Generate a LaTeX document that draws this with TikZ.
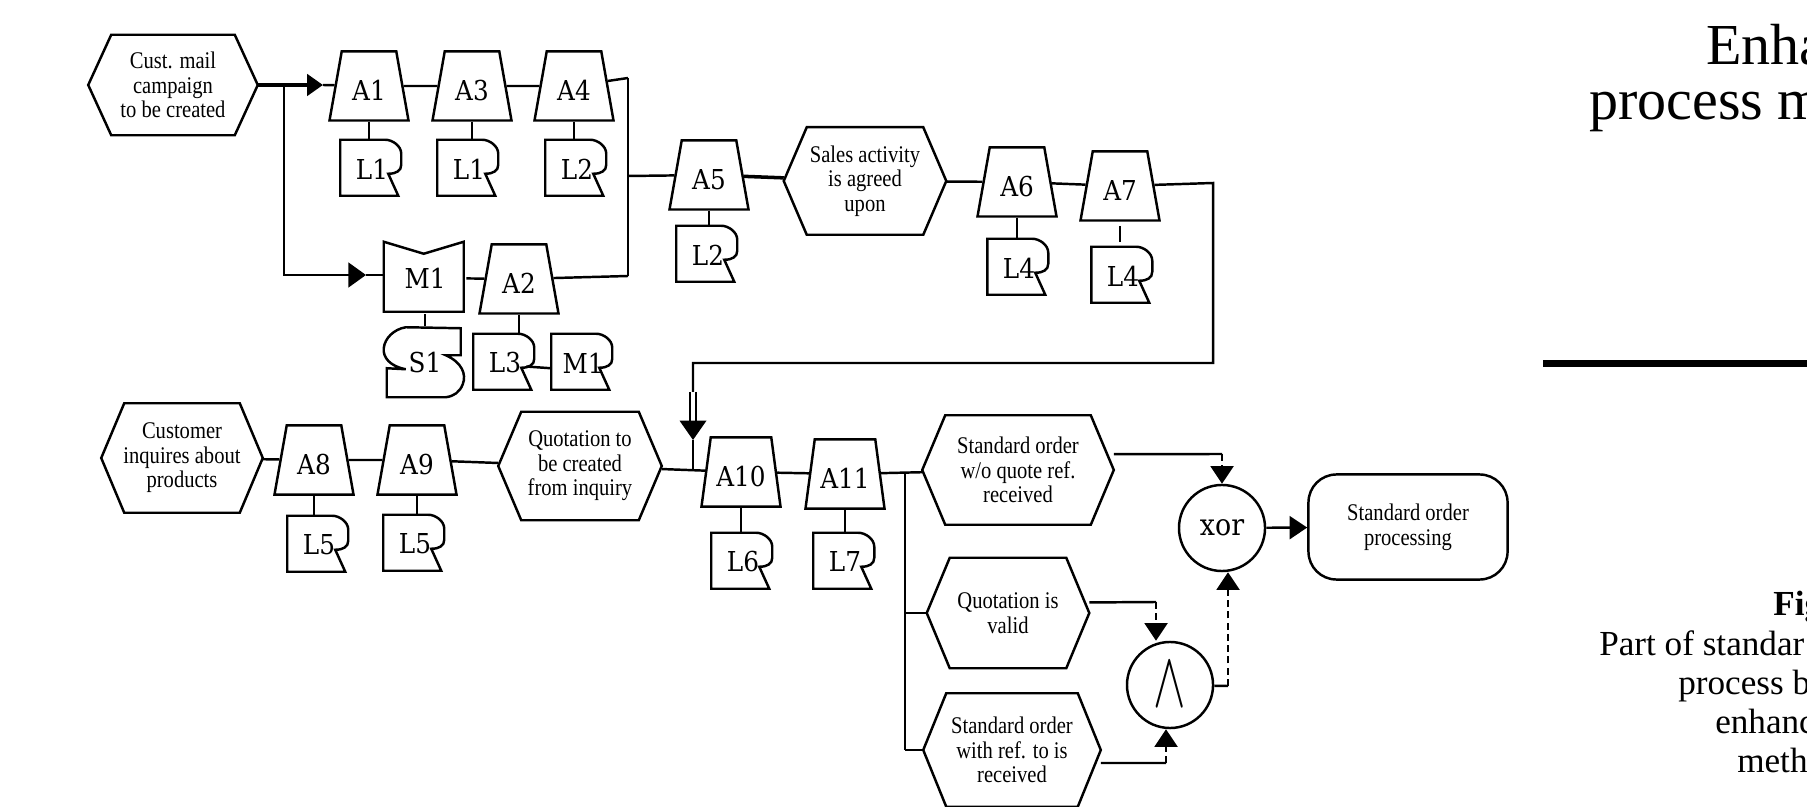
\documentclass[tikz,border=0pt]{standalone}
\usepackage{fontspec}
\setmainfont{Liberation Serif}
\newfontfamily\evfont[FakeStretch=0.86]{Liberation Serif}
\newfontfamily\fnfont[FakeStretch=0.9]{DejaVu Serif}
\usetikzlibrary{arrows.meta,shapes.geometric}

% outline of a document symbol, 61 x 56, from its north west corner
\newcommand\docpath{(0,0) -- (45,0) .. controls (52,0) and (61,6) .. (61,14) -- (61,25)
  .. controls (61,31) and (56,34) .. (48,34) -- (58,56) -- (0,56) -- cycle}

\begin{document}
\begin{tikzpicture}[x=0.01cm, y=-0.01cm, line width=0.7pt,
  >={Triangle[length=5pt, width=6.5pt]},
  evt/.style={inner sep=0pt, align=center, font=\evfont\fontsize{6.8}{7}\selectfont},
  fn/.style={draw, trapezium, trapezium angle=75, trapezium stretches=true,
    minimum width=0.79cm, minimum height=0.69cm, inner sep=0pt,
    text height=0.28cm, text depth=0pt, font=\fnfont\fontsize{7.8}{8}\selectfont},
  docnode/.style={minimum width=0.61cm, minimum height=0.56cm, inner sep=0pt,
    font=\fnfont\fontsize{7.8}{8}\selectfont},
  gate/.style={draw, circle, minimum size=0.86cm, inner sep=0pt},
  dsh/.style={dash pattern=on 2pt off 1.2pt},
  ttl/.style={anchor=base west, inner sep=0pt}]
  \useasboundingbox (0,0) rectangle (1807,807);

  % events
  \node[evt, minimum width=1.67cm, minimum height=0.98cm] (h1) at (173,85) {Cust. mail\\campaign\\to be created};
  \node[evt, minimum width=1.60cm, minimum height=1.05cm] (h2) at (865,181) {Sales activity\\is agreed\\upon};
  \node[evt, minimum width=1.59cm, minimum height=1.07cm] (h3) at (182,458) {Customer\\inquires about\\products};
  \node[evt, minimum width=1.61cm, minimum height=1.06cm] (h4) at (580,466) {Quotation to\\be created\\from inquiry};
  \node[evt, minimum width=1.89cm, minimum height=1.07cm] (h5) at (1018,470) {Standard order\\w/o quote ref.\\received};
  \node[evt, minimum width=1.60cm, minimum height=1.08cm] (h6) at (1008,613) {Quotation is\\valid};
  \node[evt, minimum width=1.75cm, minimum height=1.11cm] (h7) at (1012,750) {Standard order\\with ref. to is\\received};
  \foreach \n in {h1,h2,h3,h4,h5,h6,h7}
    \draw (\n.west) -- ([xshift=0.23cm]\n.north west) -- ([xshift=-0.23cm]\n.north east)
      -- (\n.east) -- ([xshift=-0.23cm]\n.south east) -- ([xshift=0.23cm]\n.south west) -- cycle;

  % functions
  \node[fn] (a1) at (369,86) {A1};
  \node[fn] (a3) at (472,86) {A3};
  \node[fn] (a4) at (574,86) {A4};
  \node[fn] (a2) at (519,279) {A2};
  \node[fn] (a5) at (709,175) {A5};
  \node[fn] (a6) at (1017,182) {A6};
  \node[fn] (a7) at (1120,186) {A7};
  \node[fn] (a8) at (314,460) {A8};
  \node[fn] (a9) at (417,460) {A9};
  \node[fn] (a10) at (741,472) {A10};
  \node[fn] (a11) at (845,474) {A11};

  % documents, machine and system
  \node[docnode] (l1a) at (372,169) {L1};
  \node[docnode] (l1b) at (469,169) {L1};
  \node[docnode] (l2a) at (577,169) {L2};
  \node[docnode] (l2b) at (708,255) {L2};
  \node[docnode] (l4a) at (1019,268) {L4};
  \node[docnode] (l4b) at (1123,276) {L4};
  \node[docnode] (l3) at (505,363) {L3};
  \node[docnode] (m1b) at (583,363) {M1};
  \node[docnode] (l5a) at (319,545) {L5};
  \node[docnode] (l5b) at (415,544) {L5};
  \node[docnode] (l6) at (743,562) {L6};
  \node[docnode] (l7) at (845,562) {L7};
  \foreach \n in {l1a,l1b,l2a,l2b,l4a,l4b,l3,m1b,l5a,l5b,l6,l7}
    \draw[shift={(\n.north west)}] \docpath;

  \node[docnode, minimum width=0.80cm, minimum height=0.70cm] (m1) at (425,278) {M1};
  \draw[shift={(m1.north west)}] (0,0) -- (40,12) -- (80,0) -- (80,70) -- (0,70) -- cycle;
  \node[docnode, minimum width=0.80cm, minimum height=0.71cm] (s1) at (425,363) {S1};
  \draw[shift={(s1.north west)}] (22,1) -- (77,2) -- (77,29) -- (62,29)
    .. controls (78,36) and (83,48) .. (79,58) .. controls (76,66) and (70,70) .. (62,71)
    -- (3,71) -- (3,42) -- (22,43) .. controls (6,40) and (-1,31) .. (0,22)
    .. controls (1,12) and (10,3) .. (22,1) -- cycle;

  % operators and target
  \node[gate, font=\fnfont\fontsize{8.5}{9}\selectfont] (xor) at (1222,528) {xor};
  \node[gate] (and) at (1170,685) {\scalebox{0.8}[1.3]{\fontsize{16}{16}\selectfont$\wedge$}};
  \node[draw, rounded corners=0.28cm, minimum width=1.99cm, minimum height=1.05cm,
    evt] (sop) at (1408,527) {Standard order\\processing};

  % upper flow
  \coordinate (j1) at (284,85);
  \coordinate (t1) at (323,85);
  \coordinate (t2) at (366,275);
  \draw[line width=1.1pt] (h1.east) -- (j1);
  \draw[line width=1.1pt, -{Triangle[length=4.5pt, width=6pt]}] (j1) -- (t1);
  \draw (t1) -- (a1);
  \draw[-{Triangle[length=5pt, width=7pt]}] (j1) |- (t2);
  \draw (t2) -- (t2 -| m1.west);
  \draw (a1) -- (a3);
  \draw (a3) -- (a4);
  \draw (m1) -- (a2);
  \coordinate (btop) at (628,78);
  \coordinate (bmid) at (628,176);
  \coordinate (bbot) at (628,276);
  \draw (a4) -- (btop);
  \draw (a2) -- (bbot);
  \draw (btop) -- (bbot);
  \draw (bmid) -- (a5);
  \draw[line width=1pt] (a5) -- (h2);
  \draw (h2) -- (a6);
  \draw (a6) -- (a7);

  % return to the lower row
  \coordinate (c1) at (1213,183);
  \coordinate (c2) at (693,363);
  \coordinate (c3) at (693,392);
  \coordinate (c4) at (693,421);
  \coordinate (t3) at (693,440);
  \coordinate (j3) at (693,469);
  \draw (a7) -- (c1) |- (c2) -- (c3);
  \draw[double, double distance=1pt] (c3) -- (c4);
  \draw[-{Triangle[length=5.5pt, width=7.5pt]}] (c4) -- (t3);
  \draw (t3) -- (j3);

  % lower flow
  \draw (h3) -- (a8);
  \draw (a8) -- (a9);
  \draw (a9) -- (h4);
  \draw (h4) -- (a10);
  \draw (a10) -- (a11);
  \draw (a11) -- (h5);
  \coordinate (j5) at (905,472);
  \coordinate (j6) at (905,613);
  \coordinate (j7) at (905,750);
  \draw (j5) -- (j7);
  \draw (j6) -- (h6);
  \draw (j7) -- (h7);

  % resources
  \foreach \f/\d in {a1/l1a,a3/l1b,a4/l2a,a5/l2b,a6/l4a,a2/l3,a8/l5a,a9/l5b,a10/l6,a11/l7}
    \draw (\f.south) -- (\f.south |- \d.north);
  \draw[shorten <=1.2pt, shorten >=1.4pt] (a7.south) -- (a7.south |- l4b.north);
  \draw (m1.south) -- (m1.south |- s1.north);
  \draw ([xshift=-3pt, yshift=-1pt]l3.east) -- ([yshift=-1.5pt]m1b.west);

  % joins
  \coordinate (k5) at (1222,454);
  \coordinate (k6) at (1156,602);
  \coordinate (k7) at (1166,763);
  \coordinate (k8) at (1228,686);
  \draw ([yshift=4.5pt]h5.east) -- (k5);
  \draw[dsh, ->] (k5) -- (xor);
  \draw ([yshift=3pt]h6.east) -- (k6);
  \draw[dsh, ->] (k6) -- (k6 |- and.north);
  \draw ([yshift=-3.7pt]h7.east) -- (k7);
  \draw[dsh, ->] (k7) -- (k7 |- and.south);
  \draw (and) -- (k8);
  \draw[dsh, ->] (k8) -- (k8 |- xor.south);
  \draw[->] (xor) -- (sop);

  % page margin text
  \node[ttl, font=\fontsize{16.5}{16.5}\selectfont] (ttla) at (1705,65) {Enha};
  \node[ttl, font=\fontsize{16.5}{16.5}\selectfont] (ttlb) at (1588,120) {process m};
  \draw[line width=2pt] (1543,363.5) -- (1807,363.5);
  \node[ttl, font=\bfseries\fontsize{10}{10}\selectfont] (capa) at (1772,615) {Fig};
  \node[ttl, font=\fontsize{10}{10}\selectfont] (capb) at (1598,655) {Part of standar};
  \node[ttl, font=\fontsize{10}{10}\selectfont] (capc) at (1677,694) {process b};
  \node[ttl, font=\fontsize{10}{10}\selectfont] (capd) at (1714,733) {enhanc};
  \node[ttl, font=\fontsize{10}{10}\selectfont] (cape) at (1736,772) {meth};
\end{tikzpicture}
\end{document}
